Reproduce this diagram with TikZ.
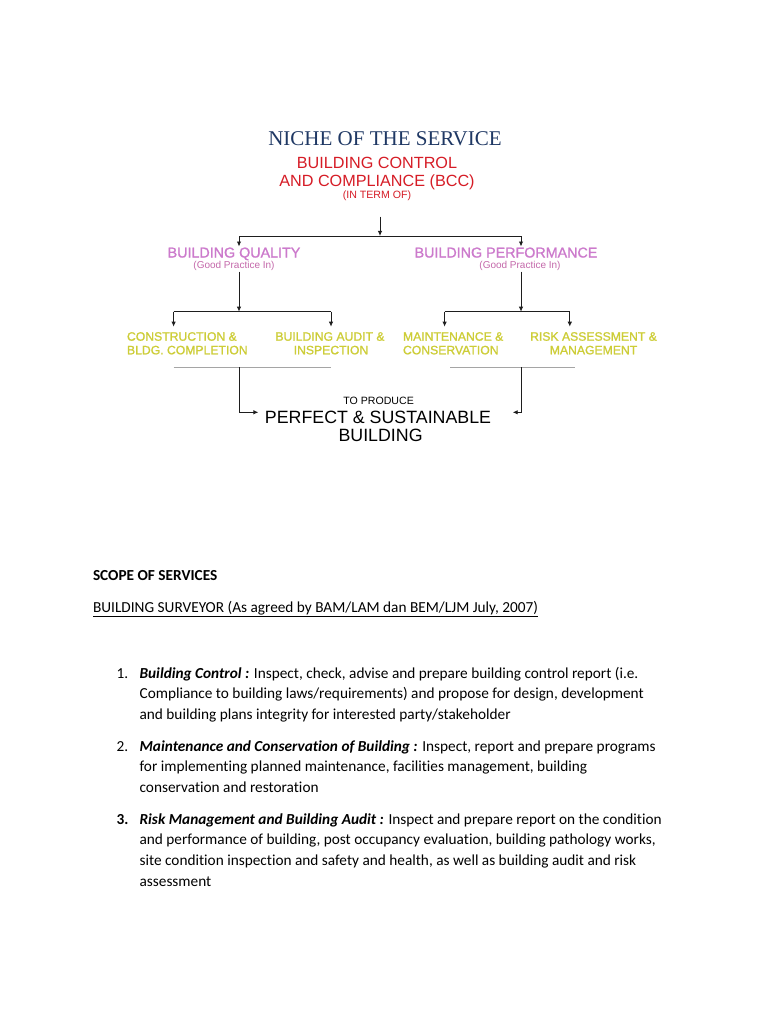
\documentclass[tikz,border=0pt]{standalone}
\usepackage{fontspec}
\setmainfont{Carlito}[Ligatures={NoCommon}]
\newfontfamily\arialf{Liberation Sans}
\newfontfamily\arialthick{Liberation Sans}[FakeBold=1.2]
\newfontfamily\seriff{Liberation Serif}
\usetikzlibrary{arrows.meta}
\definecolor{navyc}{RGB}{31,56,100}
\definecolor{redc}{RGB}{214,28,38}
\definecolor{pinkc}{RGB}{204,122,204}
\definecolor{pinksc}{RGB}{196,104,170}
\definecolor{yelc}{RGB}{205,205,55}
\definecolor{grayc}{RGB}{165,165,165}
\definecolor{linec}{RGB}{30,30,30}
\tikzset{
  titlet/.style={font=\seriff\fontsize{21}{24}\selectfont, text=navyc, anchor=base},
  redt/.style={font=\arialf\fontsize{16.2}{19}\selectfont, text=redc, anchor=base},
  redsmall/.style={font=\arialf\fontsize{10.6}{12}\selectfont, text=redc, anchor=base},
  pinkt/.style={font=\arialthick\fontsize{14.3}{17}\selectfont, text=pinkc, anchor=base},
  pinksmall/.style={font=\arialf\fontsize{10}{12}\selectfont, text=pinksc, anchor=base},
  yelt/.style={font=\arialthick\fontsize{12.2}{14}\selectfont, text=yelc, anchor=base},
  yelleft/.style={yelt, anchor=base west},
  blkbig/.style={font=\arialf\fontsize{17.8}{20}\selectfont, text=black, anchor=base},
  blksmall/.style={font=\arialf\fontsize{10.6}{12}\selectfont, text=black, anchor=base},
  bodyt/.style={font=\fontsize{15.3}{20}\selectfont, text=black, anchor=base west},
  conn/.style={draw=linec, line width=0.9pt},
  arr/.style={conn, -{Latex[length=5pt,width=4.5pt]}},
  grayline/.style={draw=grayc, line width=1.6pt}
}
\begin{document}
\begin{tikzpicture}[x=1pt,y=-1pt, every node/.style={inner sep=0pt, outer sep=0pt}]
\useasboundingbox[fill=white] (0,0) rectangle (768,1024);

% Header
\node[titlet] (niche) at (385,146) {NICHE OF THE SERVICE};
\node[redt] (bcc1) at (377,168.3) {BUILDING CONTROL};
\node[redt] (bcc2) at (377,186.7) {AND COMPLIANCE (BCC)};
\node[redsmall] (interm) at (377,198.3) {(IN TERM OF)};

% First level split
\coordinate (a0) at (380,216.7);
\coordinate (j0) at (380,236);
\coordinate (jl) at (239,236);
\coordinate (jr) at (521,236);
\coordinate (bqtop) at (239,246.5);
\coordinate (bptop) at (521,246.5);
\draw[arr] (a0) -- (j0);
\draw[conn] (jl) -- (jr);
\draw[arr] (jl) -- (bqtop);
\draw[arr] (jr) -- (bptop);

\node[pinkt] (bq) at (234,257.5) {BUILDING QUALITY};
\node[pinksmall] (bqg) at (234,268.5) {(Good Practice In)};
\node[pinkt] (bp) at (506,257.5) {BUILDING PERFORMANCE};
\node[pinksmall] (bpg) at (520,268.5) {(Good Practice In)};

% Left subtree
\coordinate (bqb) at (239,271.7);
\coordinate (ql) at (239,311.7);
\coordinate (qll) at (173.6,311.7);
\coordinate (qlr) at (331,311.7);
\coordinate (c1t) at (173.6,326.7);
\coordinate (c2t) at (331,326.7);
\draw[arr] (bqb) -- (ql);
\draw[conn] (qll) -- (qlr);
\draw[arr] (qll) -- (c1t);
\draw[arr] (qlr) -- (c2t);

% Right subtree
\coordinate (bpb) at (521,271.7);
\coordinate (pr) at (521,311.7);
\coordinate (prl) at (444.6,311.7);
\coordinate (prr) at (569.8,311.7);
\coordinate (c3t) at (444.6,326.7);
\coordinate (c4t) at (569.8,326.7);
\draw[arr] (bpb) -- (pr);
\draw[conn] (prl) -- (prr);
\draw[arr] (prl) -- (c3t);
\draw[arr] (prr) -- (c4t);

% Yellow labels
\node[yelleft] (c1a) at (127,340.7) {CONSTRUCTION \&};
\node[yelleft] (c1b) at (127,354.3) {BLDG. COMPLETION};
\node[yelt] (c2a) at (330,340.7) {BUILDING AUDIT \&};
\node[yelt] (c2b) at (331,354.3) {INSPECTION};
\node[yelleft] (c3a) at (403,340.7) {MAINTENANCE \&};
\node[yelleft] (c3b) at (403,354.3) {CONSERVATION};
\node[yelt] (c4a) at (593.5,340.7) {RISK ASSESSMENT \&};
\node[yelt] (c4b) at (593.5,354.3) {MANAGEMENT};

% Gray bars
\coordinate (g1) at (173.6,367.3);
\coordinate (g2) at (331,367.3);
\coordinate (g3) at (450.4,367.3);
\coordinate (g4) at (575,367.3);
\draw[grayline] (g1) -- (g2);
\draw[grayline] (g3) -- (g4);

% Result
\node[blksmall] (prod) at (378.6,404.3) {TO PRODUCE};
\node[blkbig] (perf1) at (378,423.3) {PERFECT \& SUSTAINABLE};
\node[blkbig] (perf2) at (380.6,441.7) {BUILDING};

\coordinate (lb0) at (239,367.3);
\coordinate (lb1) at (239,412.3);
\coordinate (pl) at (258.4,412.3);
\coordinate (rb0) at (521,367.3);
\coordinate (rb1) at (521,412.3);
\coordinate (pr2) at (512.7,412.3);
\draw[arr] (lb0) -- (lb1) -- (pl);
\draw[arr] (rb0) -- (rb1) -- (pr2);

% Body text
\node[bodyt, font=\fontsize{15.3}{20}\selectfont\bfseries] (scope) at (93,580.5) {SCOPE OF SERVICES};
\node[bodyt] (surv) at (93,612.5) {\underline{BUILDING SURVEYOR (As agreed by BAM/LAM dan BEM/LJM July, 2007)}};

\node[bodyt] (n1) at (116.5,678.5) {1.};
\node[bodyt] (i1a) at (139.6,678.5) {\textbf{\textit{Building Control :}} Inspect, check, advise and prepare building control report (i.e.};
\node[bodyt] (i1b) at (139.6,698.5) {Compliance to building laws/requirements) and propose for design, development};
\node[bodyt] (i1c) at (139.6,719.5) {and building plans integrity for interested party/stakeholder};

\node[bodyt] (n2) at (116.5,751.5) {2.};
\node[bodyt] (i2a) at (139.6,751.5) {\textbf{\textit{Maintenance and Conservation of Building :}} Inspect, report and prepare programs};
\node[bodyt] (i2b) at (139.6,771.5) {for implementing planned maintenance, facilities management, building};
\node[bodyt] (i2c) at (139.6,792.5) {conservation and restoration};

\node[bodyt, font=\fontsize{15.3}{20}\selectfont\bfseries] (n3) at (116.5,824.5) {3.};
\node[bodyt] (i3a) at (139.6,824.5) {\textbf{\textit{Risk Management and Building Audit :}} Inspect and prepare report on the condition};
\node[bodyt] (i3b) at (139.6,844.5) {and performance of building, post occupancy evaluation, building pathology works,};
\node[bodyt] (i3c) at (139.6,865.5) {site condition inspection and safety and health, as well as building audit and risk};
\node[bodyt] (i3d) at (139.6,886.5) {assessment};
\end{tikzpicture}
\end{document}
